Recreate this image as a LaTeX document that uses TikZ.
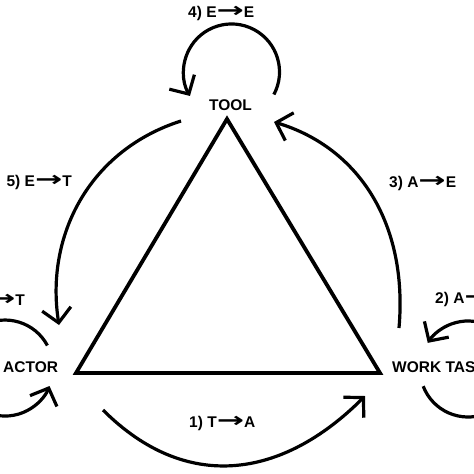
\documentclass[tikz,border=0pt]{standalone}
\usepackage{graphicx}
\usepackage{fontspec}
\setmainfont{Liberation Sans}
\newfontfamily\arrfont{DejaVu Sans}
\usetikzlibrary{arrows.meta}
\newcommand\rarr{\raisebox{-0.6pt}{\scalebox{2.1}[1.35]{\arrfont\bfseries →}}}
\begin{document}
\begin{tikzpicture}[x=1pt,y=-1pt,
  conn/.style={line width=3.2pt},
  tipped/.style={-{Straight Barb[length=14pt,width=29pt]}},
  tri/.style={line width=3.8pt},
  lbl/.style={font=\fontsize{15.5}{18}\selectfont\bfseries, inner sep=0pt}]
\fill[white] (0,0) rectangle (474,474);
\useasboundingbox (0,0) rectangle (474,474);
% triangle
\coordinate (L) at (76,373);
\coordinate (T) at (227,119);
\coordinate (R) at (380,373);
\draw[tri] (L) -- (T) -- (R) -- cycle;
% labels
\node[lbl, anchor=base] (tool) at (230.5,110) {TOOL};
\node[lbl, anchor=base west] (actor) at (3,372) {ACTOR};
\node[lbl, anchor=base west] (work) at (392,372) {WORK TASK};
\node[lbl, anchor=base west] (l4) at (188,17) {4) E\rarr E};
\node[lbl, anchor=base east] (l5) at (72,186) {5) E\rarr T};
\node[lbl, anchor=base east] (l6) at (25,305) {6) T\rarr T};
\node[lbl, anchor=base west] (l3) at (389,187) {3) A\rarr E};
\node[lbl, anchor=base west] (l2) at (435,303) {2) A\rarr A};
\node[lbl, anchor=base west] (l1) at (189,427) {1) T\rarr A};
% connector end points
\coordinate (s4) at (273.9,94.5);
\coordinate (s2) at (423.2,386.2);
\coordinate (s6) at (47.4,345.5);
\coordinate (s1) at (103,410);
\coordinate (e1) at (365,396);
\coordinate (s3) at (399,328);
\coordinate (e3) at (274,122);
\coordinate (s5) at (181,121);
\coordinate (e5) at (59,325);
% 1) actor -> work task
\draw[conn,tipped] (s1) .. controls (186,493) and (282,479) .. (e1);
% 2) work task loop
\draw[conn,tipped] (s2) arc[start angle=159, end angle=-147, radius=48];
% 3) work task -> tool
\draw[conn,tipped] (s3) .. controls (408,225) and (360,148) .. (e3);
% 4) tool loop
\draw[conn,tipped] (s4) arc[start angle=28, end angle=-210, radius=48];
% 5) tool -> actor
\draw[conn,tipped] (s5) .. controls (90,150) and (45,235) .. (e5);
% 6) actor loop
\draw[conn,tipped] (s6) arc[start angle=-28, end angle=-338, radius=48];
\end{tikzpicture}
\end{document}
